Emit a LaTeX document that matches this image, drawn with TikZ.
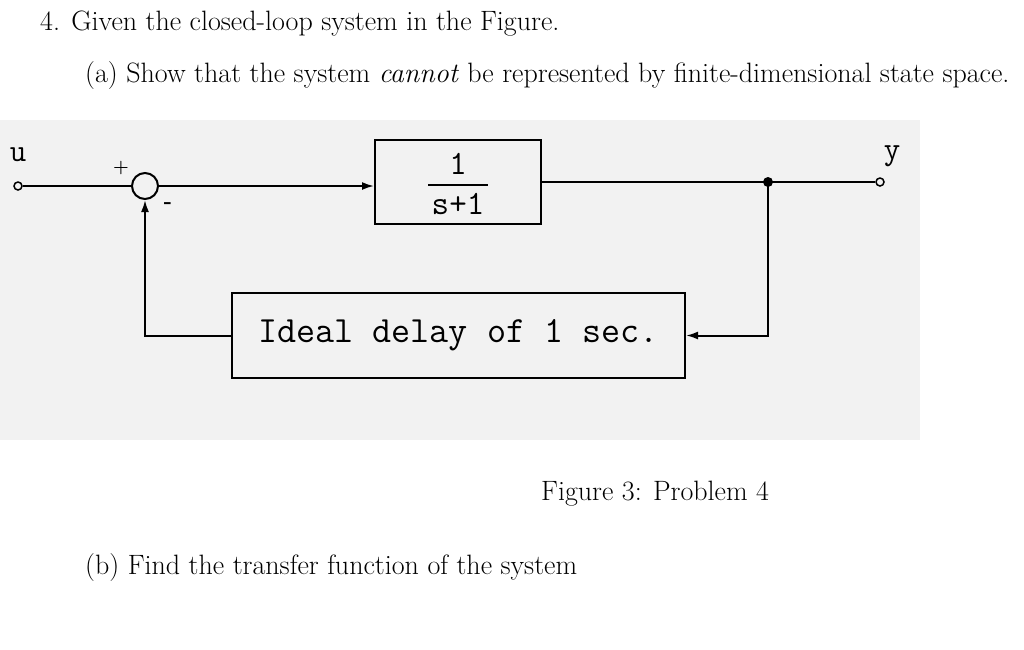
\documentclass[tikz,border=0pt]{standalone}
\usetikzlibrary{arrows.meta}
\begin{document}
\begin{tikzpicture}[x=1pt,y=-1pt,
  txt/.style={anchor=west,inner sep=0,font=\fontsize{28}{32}\selectfont},
  blk/.style={draw,line width=2pt,inner sep=0},
  wire/.style={line width=2pt},
  arr/.style={wire,-{Latex[length=12pt,width=8pt]}}]
\useasboundingbox (0,0) rectangle (1024,649);
\fill[black!5] (0,120) rectangle (920,440);
\node[txt] (t1) at (40,24) {4. Given the closed-loop system in the Figure.};
\node[txt] (t2) at (85,76) {(a) Show that the system \textit{cannot} be represented by finite-dimensional state space.};
\node[txt] (t3) at (541,494) {Figure 3: Problem 4};
\node[txt] (t4) at (85,567) {(b) Find the transfer function of the system};
% diagram
\node[draw,circle,line width=1.5pt,minimum size=8pt,inner sep=0] (in) at (18,186) {};
\node[font=\fontsize{32}{34}\ttfamily] (ul) at (18,155) {u};
\node[draw,circle,line width=2pt,minimum size=26pt,inner sep=0] (sum) at (145,186) {};
\node[font=\bfseries\fontsize{18}{18}\selectfont] (plus) at (121,168) {+};
\node[font=\bfseries\fontsize{22}{22}\selectfont] (minus) at (168,206) {-};
\node[blk,minimum width=166pt,minimum height=84pt] (g) at (458,182) {};
\node[font=\fontsize{34}{36}\ttfamily,inner sep=0] (num) at (458,164) {1};
\node[font=\fontsize{34}{36}\ttfamily,inner sep=0] (den) at (458,204) {s+1};
\draw[line width=1.5pt] (428,185) -- (488,185);
\node[blk,minimum width=453pt,minimum height=85pt,font=\fontsize{37}{40}\ttfamily] (d) at (458.5,335.5) {Ideal delay of 1 sec.};
\coordinate (br) at (768,182);
\fill (br) circle (5pt);
\node[draw,circle,line width=1.5pt,minimum size=8pt,inner sep=0] (out) at (880,182) {};
\node[font=\fontsize{32}{34}\ttfamily] (yl) at (892,156) {y};
\draw[wire] (in) -- (sum);
\draw[arr] (sum) -- (g.west |- sum);
\draw[wire] (g.east |- br) -- (br) -- (out);
\draw[arr] (br) |- (d.east);
\draw[arr] (d.west) -| (sum.south);
\end{tikzpicture}
\end{document}
